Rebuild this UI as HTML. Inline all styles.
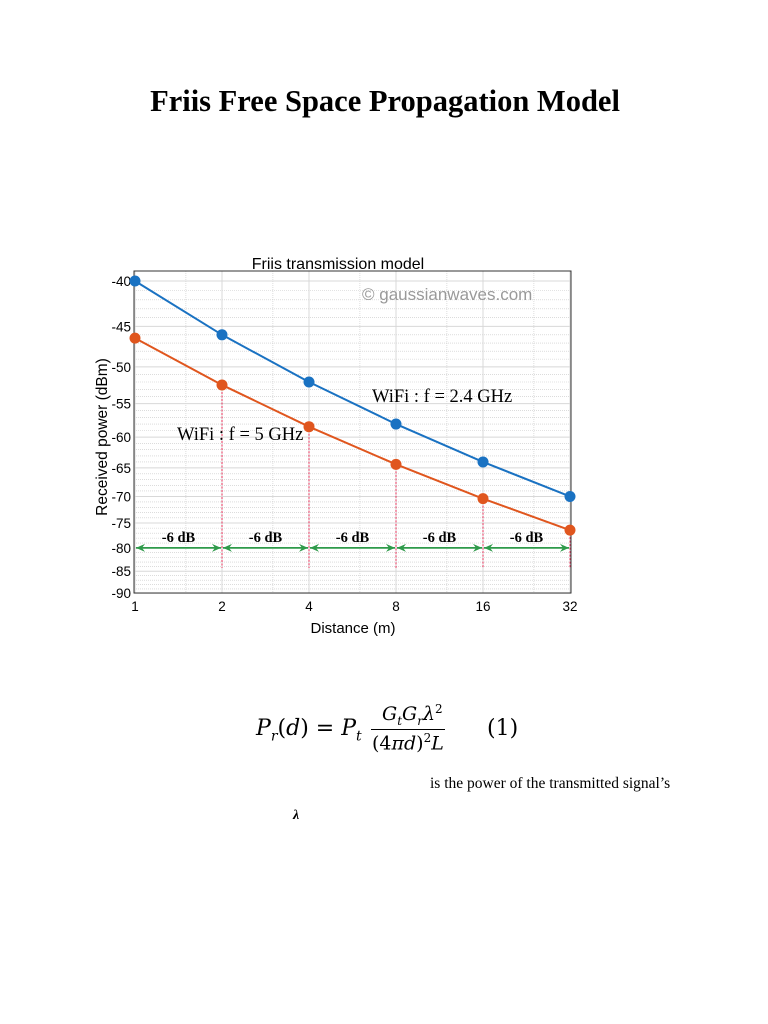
<!DOCTYPE html>
<html><head><meta charset="utf-8"><style>
body{margin:0;width:768px;height:1024px;background:#fff;position:relative;overflow:hidden;font-family:"Liberation Serif",serif}
.abs{position:absolute;white-space:nowrap}
</style></head><body>
<div class="abs" style="left:0;width:770px;text-align:center;top:84px;font-size:30.5px;font-weight:bold;color:#000">Friis Free Space Propagation Model</div>
<svg id="chart" width="768" height="1024" style="position:absolute;left:0;top:0" xmlns="http://www.w3.org/2000/svg"></svg>
<div class="abs" style="left:256px;top:706px;font-size:22px;font-family:'DejaVu Serif','Liberation Serif',serif">
<span style="position:absolute;left:0;top:10px"><i>P<sub style="font-size:14px">r</sub></i>(<i>d</i>) = <i>P<sub style="font-size:14px">t</sub></i></span>
<span style="position:absolute;left:126px;top:-4px;font-size:19px"><i>G<sub style="font-size:12px">t</sub>G<sub style="font-size:12px">r</sub>λ</i><sup style="font-size:12px">2</sup></span>
<span style="position:absolute;left:115px;top:23px;width:74px;border-top:1px solid #000"></span>
<span style="position:absolute;left:116px;top:25px;font-size:19px">(4<i>πd</i>)<sup style="font-size:12px">2</sup><i>L</i></span>
<span style="position:absolute;left:231px;top:10px">(1)</span>
</div>
<div class="abs" style="left:430px;top:775px;font-size:15.5px">is the power of the transmitted signal’s</div>
<div class="abs" style="left:293px;top:808px;font-size:14px;font-weight:bold;font-style:italic">λ</div>
<script>
const distances=[1,2,4,8,16,32];
const wifi24=[-40,-46,-52,-58,-64,-70];
const wifi5=[-46.4,-52.4,-58.4,-64.4,-70.4,-76.4];
const yTicks=[-40,-45,-50,-55,-60,-65,-70,-75,-80,-85,-90];
const xTicks=[1,2,4,8,16,32];
const dbLabels=["-6 dB","-6 dB","-6 dB","-6 dB","-6 dB"];
const arrowLevel=-80;

const svg=document.getElementById('chart');
const NS='http://www.w3.org/2000/svg';
const L=134,R=571,T=271,B=593;
function xs(d){return 135+87*Math.log2(d);}
function ys(v){return 281+385*Math.log(-v/40);}
function mk(tag,attrs,name,text){const e=document.createElementNS(NS,tag);for(const k in attrs)e.setAttribute(k,attrs[k]);


if(text!==undefined)e.textContent=text;svg.appendChild(e);return e;}
mk('rect',{x:L,y:T,width:R-L,height:B-T,fill:'#fff'},'plot-area');
for(let v=-41;v>=-89;v--){if(v%5===0)continue;mk('line',{x1:L,x2:R,y1:ys(v),y2:ys(v),stroke:'#c8c8c8','stroke-width':0.6,'stroke-dasharray':'1,1'},'y-minor-grid');}
for(let o=0;o<5;o++){const b=Math.pow(2,o);for(let m=3;m<=9;m++){if(m===4||m===8)continue;const d=b*m/2;if(d>=b*2)continue;mk('line',{x1:xs(d),x2:xs(d),y1:T,y2:B,stroke:'#c8c8c8','stroke-width':0.6,'stroke-dasharray':'1,1'},'x-minor-grid');}}
yTicks.forEach(v=>{mk('line',{x1:L,x2:R,y1:ys(v),y2:ys(v),stroke:'#d8d8d8','stroke-width':1},'y-grid');
mk('text',{x:L-3,y:ys(v)+5,'text-anchor':'end','font-size':13.5,'font-family':'Liberation Sans, sans-serif'},'y-tick-label',v);});
xTicks.forEach(d=>{mk('line',{x1:xs(d),x2:xs(d),y1:T,y2:B,stroke:'#d8d8d8','stroke-width':1},'x-grid');
mk('text',{x:xs(d),y:B+18,'text-anchor':'middle','font-size':13.5,'font-family':'Liberation Sans, sans-serif'},'x-tick-label',d);});
mk('rect',{x:L,y:T,width:R-L,height:B-T,fill:'none',stroke:'#333','stroke-width':1},'plot-frame');
mk('text',{x:338,y:269,'text-anchor':'middle','font-size':16,'font-family':'Liberation Sans, sans-serif'},'chart-title','Friis transmission model');
mk('text',{x:353,y:633,'text-anchor':'middle','font-size':15,'font-family':'Liberation Sans, sans-serif'},'x-axis-title','Distance (m)');
mk('text',{x:107,y:437,'text-anchor':'middle','font-size':15.5,'font-family':'Liberation Sans, sans-serif',transform:'rotate(-90 107 437)'},'y-axis-title','Received power (dBm)');
mk('text',{x:362,y:300,'font-size':17,fill:'#999','font-family':'Liberation Sans, sans-serif'},'watermark','© gaussianwaves.com');
distances.slice(1).forEach((d,i)=>{mk('line',{x1:xs(d),x2:xs(d),y1:ys(wifi5[i+1]),y2:568,stroke:'#e8305a','stroke-width':1,'stroke-dasharray':'2,1.5'},'drop-line');});
const ay=ys(arrowLevel);
dbLabels.forEach((t,i)=>{const x1=xs(distances[i]),x2=xs(distances[i+1]);
mk('line',{x1:x1+1,x2:x2-1,y1:ay,y2:ay,stroke:'#2e9a4a','stroke-width':1.8},'db-arrow');
mk('path',{d:`M${x1+1},${ay} l9,-4 l-3,4 l3,4 z M${x2-1},${ay} l-9,-4 l3,4 l-3,4 z`,fill:'#2e9a4a'},'db-arrowhead');
mk('text',{x:(x1+x2)/2,y:ay-6,'text-anchor':'middle','font-size':14.5,'font-weight':'bold','font-family':'Liberation Serif, serif'},'db-label',t);});
function series(vals,col,name){mk('polyline',{points:vals.map((v,i)=>xs(distances[i])+','+ys(v)).join(' '),fill:'none',stroke:col,'stroke-width':2},name+'-line');
vals.forEach((v,i)=>mk('circle',{cx:xs(distances[i]),cy:ys(v),r:5.5,fill:col},name+'-point'));}
series(wifi24,'#1a72c2','wifi-24ghz');
series(wifi5,'#e0561e','wifi-5ghz');
mk('text',{x:372,y:402,'font-size':18.5,'font-family':'Liberation Serif, serif'},'label-24ghz','WiFi : f = 2.4 GHz');
mk('text',{x:177,y:440,'font-size':18.5,'font-family':'Liberation Serif, serif'},'label-5ghz','WiFi : f = 5 GHz');
</script>
</body></html>
